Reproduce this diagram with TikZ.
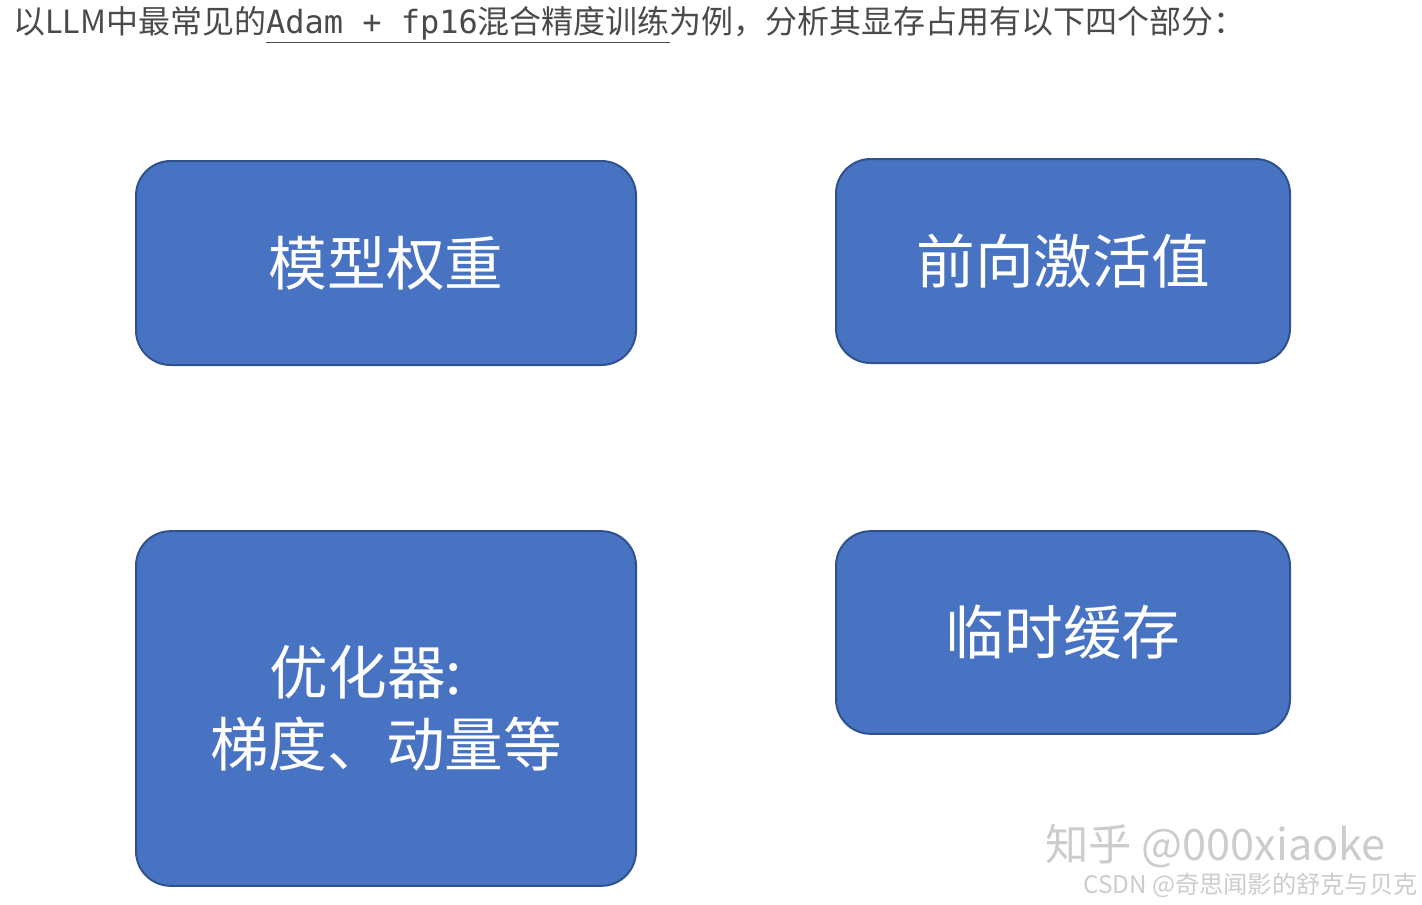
\documentclass[tikz,border=0pt]{standalone}
\usepackage{fontspec}
\setmainfont{Noto Sans CJK SC}
\setmonofont{DejaVu Sans Mono}
\usepackage{tikz}
\usetikzlibrary{positioning}

\definecolor{boxfill}{HTML}{4872C2}
\definecolor{boxline}{HTML}{2F528F}
\definecolor{headtext}{HTML}{4A4A4A}

\tikzset{
  membox/.style={draw=boxline, line width=1.5pt, fill=boxfill, rounded corners=26pt,
    text=white, font=\fontsize{44}{54}\selectfont, align=center, inner sep=0pt},
  wmark/.style={text=gray!40, inner sep=0pt}
}

\begin{document}
\begin{tikzpicture}[x=0.75pt,y=0.75pt,yscale=-1,xscale=1]
\useasboundingbox (0,0) rectangle (1422,904);

% Text Node
\node (head) [anchor=west, text=headtext, inner sep=0pt, font=\fontsize{24}{28}\selectfont] at (13,25)
  {以LLM中最常见的\underline{\texttt{Adam + fp16}混合精度训练}为例，分析其显存占用有以下四个部分：};

%Shape: Rounded Rect
\node (weights) [membox, minimum width=375pt, minimum height=153pt] at (386,263) {模型权重};
%Shape: Rounded Rect
\node (activ) [membox, minimum width=340.5pt, minimum height=153pt] at (1063,261) {前向激活值};
%Shape: Rounded Rect
\node (optim) [membox, minimum width=375pt, minimum height=266pt] at (386,708.5) {优化器:\makebox[30pt]{}\\梯度、动量等};
%Shape: Rounded Rect
\node (buffer) [membox, minimum width=340.5pt, minimum height=152pt] at (1063,632.5) {临时缓存};

% Text Node
\node (zhihu) [wmark, anchor=east, font=\fontsize{32.5}{38}\selectfont] at (1386,846) {知乎 @000xiaoke};
% Text Node
\node (csdn) [wmark, anchor=east, font=\fontsize{18.2}{21}\selectfont] at (1418,885) {CSDN @奇思闻影的舒克与贝克};

\end{tikzpicture}
\end{document}
